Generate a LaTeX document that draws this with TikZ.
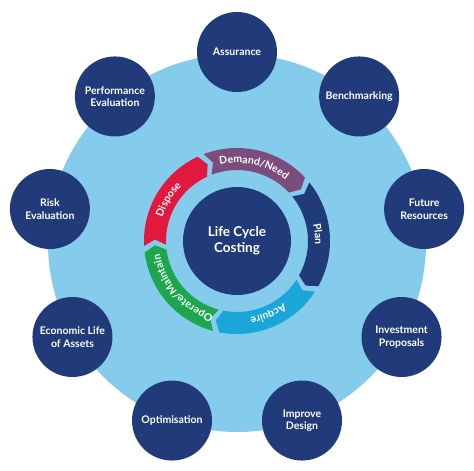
\documentclass[tikz,border=0pt]{standalone}
\usepackage{fontspec}
\setmainfont{Lato}
\usetikzlibrary{calc,decorations.text}
\definecolor{bgblue}{RGB}{132,203,236}
\definecolor{navy}{RGB}{32,58,122}
\definecolor{purp}{RGB}{124,76,124}
\definecolor{cyanseg}{RGB}{27,166,218}
\definecolor{greenseg}{RGB}{30,166,76}
\definecolor{redseg}{RGB}{226,24,62}
\newcommand\ringseg[2]{%
  \fill[#1] ({#2+34}:93) arc[start angle={#2+34}, end angle={#2-34}, radius=93]
    -- ({#2-38}:82) -- ({#2-34}:71)
    arc[start angle={#2-34}, end angle={#2+34}, radius=71]
    -- ({#2+30}:82) -- cycle;}
\newcommand\ringtext[2]{%
  \path[decorate, decoration={text along path, text align=center,
      text={|\color{white}\bfseries\fontsize{10.5}{12}\selectfont|#2}}]
    ({#1+44}:78) arc[start angle={#1+44}, end angle={#1-44}, radius=78];}
\begin{document}
\begin{tikzpicture}[x=1pt,y=1pt,
  sat/.style={circle, fill=navy, minimum size=80pt, inner sep=0pt, text=white,
    font=\bfseries\fontsize{10.5}{12.5}\selectfont, align=center}]
\useasboundingbox (-237,-230) rectangle (237,241);
\fill[white] (-237,-230) rectangle (237,241);
\node[circle, fill=bgblue, minimum size=378pt, inner sep=0pt] (bg) at (0,-2) {};
\coordinate (c) at (0,-1);
\node[sat] (s1) at ($(c)+(90:190)$) {Assurance};
\node[sat] (s2) at ($(c)+(50:190)$) {Benchmarking};
\node[sat] (s3) at ($(c)+(10:190)$) {Future\\Resources};
\node[sat] (s4) at ($(c)+(330:190)$) {Investment\\Proposals};
\node[sat] (s5) at ($(c)+(290:190)$) {Improve\\Design};
\node[sat] (s6) at ($(c)+(250:190)$) {Optimisation};
\node[sat] (s7) at ($(c)+(210:190)$) {Economic Life\\of Assets};
\node[sat] (s8) at ($(c)+(170:190)$) {Risk\\Evaluation};
\node[sat] (s9) at ($(c)+(130:190)$) {Performance\\Evaluation};
\node[circle, fill=navy, minimum size=108pt, inner sep=0pt, text=white,
  font=\bfseries\fontsize{13.5}{16}\selectfont, align=center] (lcc) at (0,0) {Life Cycle\\Costing};
\ringseg{purp}{77}
\ringseg{navy}{5}
\ringseg{cyanseg}{-67}
\ringseg{greenseg}{-139}
\ringseg{redseg}{-211}
\ringtext{77}{Demand/Need}
\ringtext{5}{Plan}
\ringtext{-67}{Acquire}
\ringtext{-139}{Operate/Maintain}
\ringtext{-211}{Dispose}
\end{tikzpicture}
\end{document}
